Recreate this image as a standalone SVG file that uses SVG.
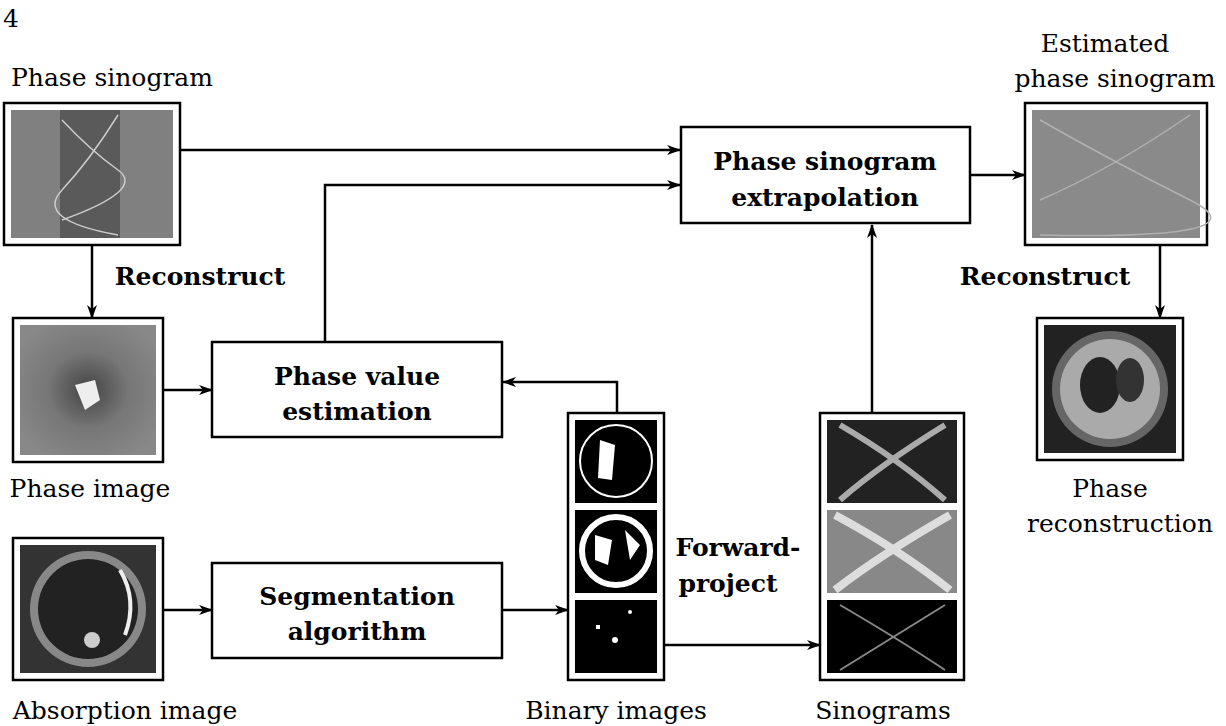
<svg xmlns="http://www.w3.org/2000/svg" width="1226" height="726" viewBox="0 0 1226 726">
<style>
text{font-family:"DejaVu Serif","Liberation Serif",serif;font-size:25px;fill:#000}
.b{font-weight:bold;text-anchor:middle}
.c{text-anchor:middle}
.box{fill:#fff;stroke:#000;stroke-width:2.5}
.fr{fill:#fff;stroke:#000;stroke-width:2.5}
.ln{fill:none;stroke:#000;stroke-width:2.5}
</style>
<defs>
<marker id="a" markerWidth="14" markerHeight="10" refX="13" refY="5" orient="auto" markerUnits="userSpaceOnUse"><path d="M0,0 L14,5 L0,10 L4,5 Z" fill="#000"/></marker>
<radialGradient id="pg" cx="0.5" cy="0.5" r="0.6"><stop offset="0" stop-color="#444"/><stop offset="0.5" stop-color="#777"/><stop offset="1" stop-color="#888"/></radialGradient>
</defs>
<text x="3" y="27">4</text>
<g id="connectors">
<path class="ln" d="M180,150 H680" marker-end="url(#a)"/>
<path class="ln" d="M970,175 H1025" marker-end="url(#a)"/>
<path class="ln" d="M92,245 V318" marker-end="url(#a)"/>
<path class="ln" d="M1160,245 V318" marker-end="url(#a)"/>
<path class="ln" d="M163,390 H212" marker-end="url(#a)"/>
<path class="ln" d="M325,342 V185 H680" marker-end="url(#a)"/>
<path class="ln" d="M617,413 V382 H503" marker-end="url(#a)"/>
<path class="ln" d="M163,610 H212" marker-end="url(#a)"/>
<path class="ln" d="M502,610 H568" marker-end="url(#a)"/>
<path class="ln" d="M664,645 H820" marker-end="url(#a)"/>
<path class="ln" d="M872,413 V225" marker-end="url(#a)"/>
<text x="200" y="285" class="b">Reconstruct</text>
<text x="1045" y="285" class="b">Reconstruct</text>
<text x="738" y="556" class="b">Forward-</text>
<text x="728" y="592" class="b">project</text>
</g>
<g id="phase-sinogram">
<text x="112" y="86" class="c">Phase sinogram</text>
<rect class="fr" x="4" y="103" width="176" height="142"/>
<rect x="11" y="110" width="162" height="128" fill="#808080"/>
<rect x="60" y="110" width="60" height="128" fill="#5a5a5a"/>
<path d="M62,120 Q90,150 118,170 T62,220 M118,115 Q90,160 62,190 T118,235" stroke="#ccc" stroke-width="1.5" fill="none"/>
</g>
<g id="extrapolation">
<rect class="box" x="681" y="127" width="289" height="96"/>
<text x="825" y="170" class="b">Phase sinogram</text>
<text x="825" y="206" class="b">extrapolation</text>
</g>
<g id="estimated">
<text x="1105" y="52" class="c">Estimated</text>
<text x="1115" y="87" class="c">phase sinogram</text>
<rect class="fr" x="1025" y="103" width="182" height="142"/>
<rect x="1032" y="110" width="168" height="128" fill="#8a8a8a"/>
<path d="M1040,120 Q1110,160 1190,200 T1040,235 M1190,115 Q1110,170 1040,200" stroke="#b0b0b0" stroke-width="1.5" fill="none"/>
</g>
<g id="phase-reconstruction">
<rect class="fr" x="1037" y="318" width="146" height="142"/>
<rect x="1044" y="325" width="132" height="128" fill="#222"/>
<circle cx="1110" cy="389" r="58" fill="#666"/>
<circle cx="1110" cy="389" r="50" fill="#aaa"/>
<ellipse cx="1100" cy="385" rx="20" ry="28" fill="#222"/>
<ellipse cx="1130" cy="380" rx="14" ry="22" fill="#333"/>
<text x="1110" y="497" class="c">Phase</text>
<text x="1120" y="532" class="c">reconstruction</text>
</g>
<g id="phase-image">
<rect class="fr" x="13" y="318" width="150" height="144"/>
<rect x="20" y="325" width="136" height="130" fill="url(#pg)"/>
<path d="M75,385 L95,380 L100,400 L85,410 Z" fill="#eee"/>
<text x="90" y="497" class="c">Phase image</text>
</g>
<g id="phase-value">
<rect class="box" x="212" y="342" width="290" height="95"/>
<text x="357" y="385" class="b">Phase value</text>
<text x="357" y="420" class="b">estimation</text>
</g>
<g id="absorption">
<rect class="fr" x="13" y="538" width="150" height="142"/>
<rect x="20" y="545" width="136" height="128" fill="#333"/>
<circle cx="88" cy="609" r="58" fill="#888"/>
<circle cx="88" cy="609" r="50" fill="#222"/>
<circle cx="92" cy="640" r="8" fill="#ccc"/>
<path d="M120,570 Q138,600 125,635" stroke="#eee" stroke-width="4" fill="none"/>
<text x="125" y="719" class="c">Absorption image</text>
</g>
<g id="segmentation">
<rect class="box" x="212" y="563" width="290" height="95"/>
<text x="357" y="605" class="b">Segmentation</text>
<text x="357" y="640" class="b">algorithm</text>
</g>
<g id="binary">
<rect class="fr" x="568" y="413" width="96" height="267"/>
<rect x="575" y="420" width="82" height="83" fill="#000"/>
<rect x="575" y="510" width="82" height="83" fill="#000"/>
<rect x="575" y="600" width="82" height="73" fill="#000"/>
<circle cx="616" cy="461" r="36" fill="none" stroke="#fff" stroke-width="2"/>
<path d="M600,440 L615,445 L612,480 L598,478 Z" fill="#fff"/>
<circle cx="616" cy="551" r="34" fill="none" stroke="#fff" stroke-width="6"/>
<path d="M595,535 L612,540 L608,565 L595,560 Z M625,530 L640,545 L630,560 Z" fill="#fff"/>
<circle cx="615" cy="640" r="3" fill="#fff"/><circle cx="630" cy="612" r="2" fill="#fff"/><rect x="596" y="625" width="4" height="4" fill="#fff"/>
<text x="616" y="719" class="c">Binary images</text>
</g>
<g id="sinograms">
<rect class="fr" x="820" y="413" width="144" height="267"/>
<rect x="827" y="420" width="130" height="83" fill="#222"/>
<rect x="827" y="510" width="130" height="83" fill="#888"/>
<rect x="827" y="600" width="130" height="73" fill="#000"/>
<path d="M840,425 Q900,460 945,500 M945,425 Q880,465 840,500" stroke="#aaa" stroke-width="6" fill="none"/>
<path d="M835,515 Q900,550 950,590 M950,515 Q880,555 835,590" stroke="#ddd" stroke-width="8" fill="none"/>
<path d="M840,605 Q900,640 945,670 M945,605 Q880,645 840,670" stroke="#888" stroke-width="2" fill="none"/>
<text x="883" y="719" class="c">Sinograms</text>
</g>
</svg>
